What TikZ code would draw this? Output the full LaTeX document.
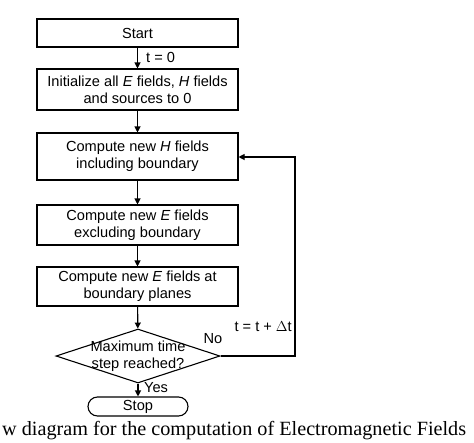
\documentclass[tikz,border=0pt]{standalone}
\usepackage{fontspec}
\setmainfont{Liberation Sans}
\newfontfamily\capfont{Liberation Serif}
\usetikzlibrary{shapes.geometric,arrows.meta}
\begin{document}
\begin{tikzpicture}[x=1pt,y=-1pt,
  every node/.style={font=\fontsize{14.6}{17}\selectfont},
  procbox/.style={draw,line width=1.1pt,minimum width=201pt,inner sep=0pt,align=center},
  decbox/.style={draw,line width=1.1pt,diamond,minimum width=164pt,minimum height=54pt,inner sep=0pt},
  flow/.style={line width=1.1pt,-{Triangle[length=6pt,width=6pt]}},
  lbl/.style={font=\fontsize{14.6}{17}\selectfont,inner sep=1pt}]
\useasboundingbox (0,0) rectangle (474,442);
\node[procbox,minimum height=28pt] (start) at (137.5,33) {Start};
\node[procbox,minimum height=41pt] (init) at (137.5,89.5) {Initialize all \textit{E} fields, \textit{H} fields\\and sources to 0};
\node[procbox,minimum height=47pt] (hf) at (137.5,156.5) {Compute new \textit{H} fields\\including boundary};
\node[procbox,minimum height=40pt] (ef) at (137.5,225) {Compute new \textit{E} fields\\excluding boundary};
\node[procbox,minimum height=39pt] (eb) at (137.5,286.5) {Compute new \textit{E} fields at\\boundary planes};
\node[decbox,label={[align=center,inner sep=0pt]center:Maximum time\\step reached?}] (dec) at (138,356) {};
\node[draw,line width=1.1pt,rounded corners=9.5pt,minimum width=100pt,minimum height=19pt,inner sep=0pt] (stop) at (138,406.5) {Stop};
\coordinate (c1) at (295,356);
\coordinate (c2) at (295,157);
\draw[flow] (start) -- (init);
\draw[flow] (init) -- (hf);
\draw[flow] (hf) -- (ef);
\draw[flow] (ef) -- (eb);
\draw[flow] (eb) -- (dec);
\draw[flow] (dec) -- (stop);
\draw[flow] (dec.east) -- (c1) -- (c2) -- (c2 -| hf.east);
\node[lbl,anchor=west] (t0) at (145,57) {t = 0};
\node[lbl,anchor=west] (yes) at (143,388) {Yes};
\node[lbl] (no) at (213,339) {No};
\node[lbl,anchor=east] (tdt) at (293,327) {t = t + $\Delta$t};
\node[anchor=base west,inner sep=0pt,font=\capfont\fontsize{20.2}{23}\selectfont] (cap) at (2,435) {w diagram for the computation of Electromagnetic Fields};
\end{tikzpicture}
\end{document}
